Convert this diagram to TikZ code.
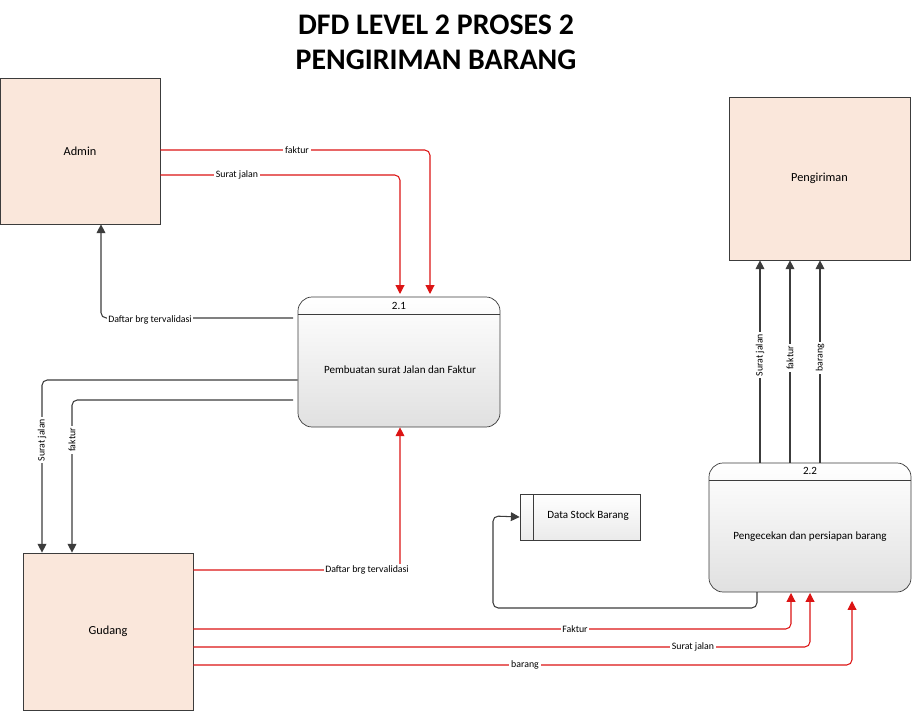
\documentclass[tikz,border=0pt]{standalone}
\usepackage{fontspec}
\setmainfont{Carlito}
\usetikzlibrary{positioning,arrows.meta}
\definecolor{entfill}{RGB}{250,231,219}
\definecolor{flowred}{RGB}{220,20,20}
\definecolor{flowgrey}{RGB}{60,60,60}
\tikzset{
    entity/.style={draw=flowgrey, fill=entfill, font=\fontsize{7}{8}\selectfont},
    proc/.style={draw=flowgrey, rounded corners=8pt, top color=white, bottom color=black!12},
    redflow/.style={draw=flowred, -{Triangle[length=5pt,width=5pt]}, rounded corners=3pt, semithick},
    blkflow/.style={draw=flowgrey, -{Triangle[length=5pt,width=5pt]}, rounded corners=3pt, semithick},
    lbl/.style={fill=white, inner sep=1pt, font=\fontsize{5.6}{6}\selectfont},
    txt/.style={font=\fontsize{6.3}{7}\selectfont}
}
\begin{document}
\begin{tikzpicture}[x=0.02cm, y=-0.02cm]
\useasboundingbox (0,0) rectangle (912,712);
% title
\node[font=\fontsize{17}{20}\bfseries\selectfont, align=center] (title) at (436,42) {DFD LEVEL 2 PROSES 2\\PENGIRIMAN BARANG};
% external entities
\node[entity, minimum width=160*0.02cm, minimum height=146*0.02cm] (admin) at (80,151) {Admin};
\node[entity, minimum width=181*0.02cm, minimum height=163*0.02cm] (kirim) at (819.5,178.5) {Pengiriman};
\node[entity, minimum width=170*0.02cm, minimum height=157*0.02cm] (gudang) at (108,631.5) {Gudang};
% processes
\node[proc, minimum width=202*0.02cm, minimum height=130*0.02cm] (p21) at (399,362) {};
\draw[flowgrey] (298,314) -- (500,314);
\node[txt] (p21n) at (399,306) {2.1};
\node[txt] (p21t) at (400,370) {Pembuatan surat Jalan dan Faktur};
\node[proc, minimum width=202*0.02cm, minimum height=129*0.02cm] (p22) at (810,527.5) {};
\draw[flowgrey] (709,480) -- (911,480);
\node[txt] (p22n) at (810,471) {2.2};
\node[txt] (p22t) at (810,537) {Pengecekan dan persiapan barang};
% data store
\node[draw=flowgrey, top color=white, bottom color=black!8, minimum width=120*0.02cm, minimum height=46*0.02cm] (ds) at (580,517) {};
\draw[flowgrey] (533,494) -- (533,540);
\node[txt] (dst) at (588,516) {Data Stock Barang};
% admin flows
\draw[redflow] (admin.east |- 0,150) -- (430,150) -- (430,294);
\node[lbl] at (297,150) {faktur};
\draw[redflow] (admin.east |- 0,175) -- (400,175) -- (400,294);
\node[lbl] at (237,175) {Surat jalan};
\draw[blkflow] (293,318) -- (101,318) -- (admin.south -| 101,0);
\node[lbl] at (150,320) {Daftar brg tervalidasi};
% to gudang
\draw[blkflow] (p21.west |- 0,380) -- (42,380) -- (gudang.north -| 42,0);
\node[lbl, rotate=90] at (42,440) {Surat jalan};
\draw[blkflow] (293,400) -- (72,400) -- (gudang.north -| 72,0);
\node[lbl, rotate=90] at (72,440) {faktur};
\draw[redflow] (gudang.east |- 0,570) -- (400,570) -- (p21.south -| 400,0);
\node[lbl] at (367,570) {Daftar brg tervalidasi};
% gudang to 2.2
\draw[redflow] (gudang.east |- 0,629) -- (791,629) -- (791,593);
\node[lbl] at (575,629) {Faktur};
\draw[redflow] (gudang.east |- 0,647) -- (810,647) -- (810,593);
\node[lbl] at (693,647) {Surat jalan};
\draw[redflow] (gudang.east |- 0,665) -- (852,665) -- (852,601);
\node[lbl] at (525,665) {barang};
% 2.2 to data store
\draw[blkflow] (757,592) -- (757,608) -- (493,608) -- (493,516) -- (ds.west);
% 2.2 to pengiriman
\draw[blkflow] (p22.north -| 760,0) -- (kirim.south -| 760,0);
\node[lbl, rotate=90] at (760,355) {Surat jalan};
\draw[blkflow] (p22.north -| 790,0) -- (kirim.south -| 790,0);
\node[lbl, rotate=90] at (790,358) {faktur};
\draw[blkflow] (p22.north -| 820,0) -- (kirim.south -| 820,0);
\node[lbl, rotate=90] at (820,358) {barang};
\end{tikzpicture}
\end{document}
